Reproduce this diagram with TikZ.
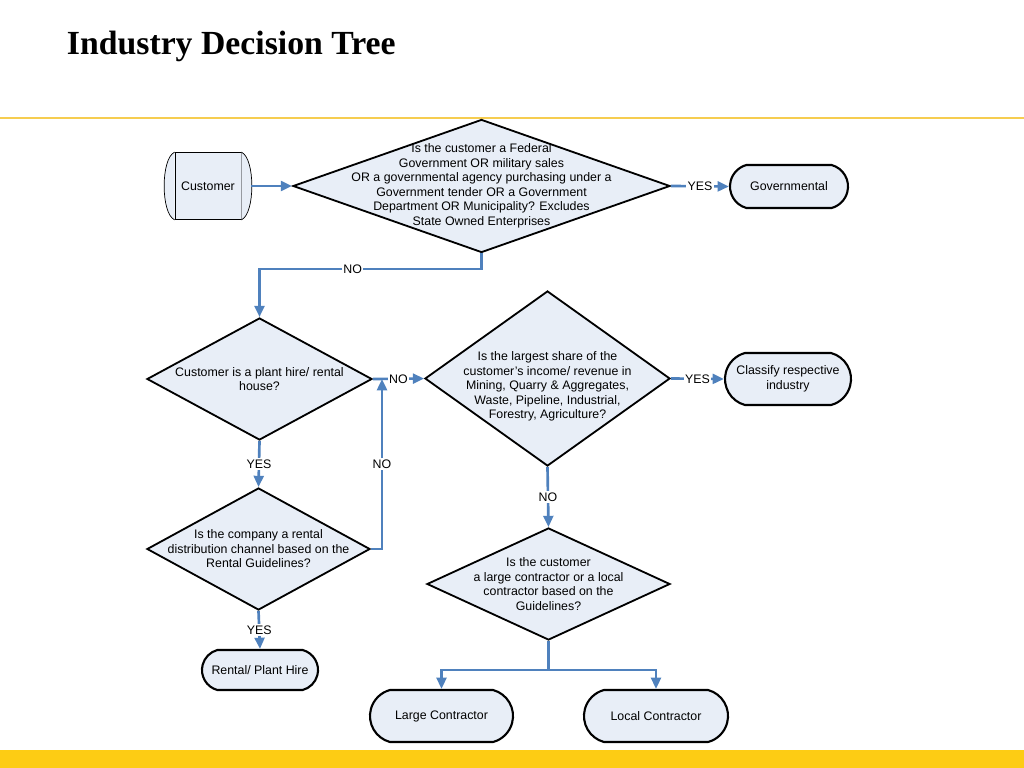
\documentclass[tikz,border=0pt]{standalone}
\usepackage{fontspec}
\setmainfont{Liberation Sans}
\newfontfamily\titlefont{Liberation Serif}
\usetikzlibrary{shapes.geometric,shapes.misc,arrows.meta}
\definecolor{boxfill}{RGB}{232,238,247}
\definecolor{flowblue}{RGB}{79,129,189}
\definecolor{rulegold}{RGB}{246,205,80}
\definecolor{bargold}{RGB}{253,204,20}
\tikzset{
  every node/.style={font=\fontsize{8.8}{10.3}\selectfont},
  decision/.style={diamond,draw,line width=1.3pt,fill=boxfill,inner sep=0pt},
  qtext/.style={align=center},
  endbox/.style={rounded rectangle,rounded rectangle arc length=150,draw,line width=1.5pt,fill=boxfill,align=center,inner sep=0pt},
  store/.style={rectangle,draw,line width=0.5pt,fill=boxfill,minimum width=1.65cm,minimum height=1.675cm},
  flow/.style={draw=flowblue,line width=1.9pt,-{Triangle[length=8pt,width=7pt]}},
  lbl/.style={fill=white,inner sep=1pt},
}

\begin{document}
\begin{tikzpicture}[x=0.025cm,y=-0.025cm]
	\useasboundingbox (0,0) rectangle (1024,768);
	\fill[bargold] (0,750) rectangle (1024,768);
	\draw[rulegold,line width=1.4pt] (0,118) -- (1024,118);
	\node[anchor=base west,font=\titlefont\bfseries\fontsize{24}{28}\selectfont] (title) at (62,55) {Industry Decision Tree};
	\node[store] (cust) at (208,186) {Customer};
	\draw[line width=0.5pt,fill=boxfill] (cust.north west) .. controls +(-14,6) and +(-14,-6) .. (cust.south west);
	\draw[line width=0.5pt,fill=boxfill] (cust.north east) .. controls +(14,6) and +(14,-6) .. (cust.south east);
	\coordinate (custout) at ([xshift=0.25cm]cust.east);
	\node[decision,minimum width=9.425cm,minimum height=3.325cm,label={[qtext]center:{Is the customer a Federal\\Government OR military sales\\OR a governmental agency purchasing under a\\Government tender OR a Government\\Department OR Municipality? Excludes\\State Owned Enterprises}}] (d1) at (481.5,186) {};
	\node[endbox,minimum width=2.95cm,minimum height=1.075cm] (gov) at (789,186.5) {Governmental};
	\node[decision,minimum width=5.625cm,minimum height=3.05cm,label={[qtext]center:{Customer is a plant hire/ rental\\house?}}] (d2) at (259.5,379) {};
	\node[decision,minimum width=6.125cm,minimum height=4.375cm,label={[qtext,yshift=-0.2cm]center:{Is the largest share of the\\customer's income/ revenue in\\Mining, Quarry \& Aggregates,\\Waste, Pipeline, Industrial,\\Forestry, Agriculture?}}] (d3) at (547.5,378.5) {};
	\node[endbox,minimum width=3.15cm,minimum height=1.3cm] (classify) at (788,379) {Classify respective\\industry};
	\node[decision,minimum width=6.075cm,minimum height=2.8cm,label={[qtext]center:{Is the customer\\a large contractor or a local\\contractor based on the\\Guidelines?}}] (d4) at (548.5,584) {};
	\node[decision,minimum width=5.575cm,minimum height=3.05cm,label={[qtext]center:{Is the company a rental\\distribution channel based on the\\Rental Guidelines?}}] (d5) at (258.5,549) {};
	\node[endbox,minimum width=2.9cm,minimum height=1.0cm] (rental) at (260,670) {Rental/ Plant Hire};
	\node[endbox,minimum width=3.575cm,minimum height=1.3cm] (large) at (441.5,716) {Large Contractor};
	\node[endbox,minimum width=3.6cm,minimum height=1.3cm] (local) at (656,716) {Local Contractor};
	\coordinate (n1) at (481.5,269);
	\coordinate (n5) at (382,549);
	\coordinate (s4) at (548.5,670);
	\draw[flow] (custout) -- (d1.west);
	\draw[flow] (d1.east) -- node[lbl]{YES} (gov.west);
	\draw[flow] (d1.south) -- (n1) -| node[lbl,pos=0.29]{NO} (d2.north);
	\draw[flow] (d2.east) -- node[lbl]{NO} (d3.west);
	\draw[flow] (d3.east) -- node[lbl]{YES} (classify.west);
	\draw[flow] (d3.south) -- node[lbl]{NO} (d4.north);
	\draw[flow] (d2.south) -- node[lbl]{YES} (d5.north);
	\draw[flow] (d5.east) -- (n5) -- node[lbl]{NO} (n5 |- d2.east);
	\draw[flow] (d5.south) -- node[lbl]{YES} (rental.north);
	\draw[flow] (d4.south) -- (s4) -| (large.north);
	\draw[flow] (s4) -| (local.north);
\end{tikzpicture}
\end{document}
